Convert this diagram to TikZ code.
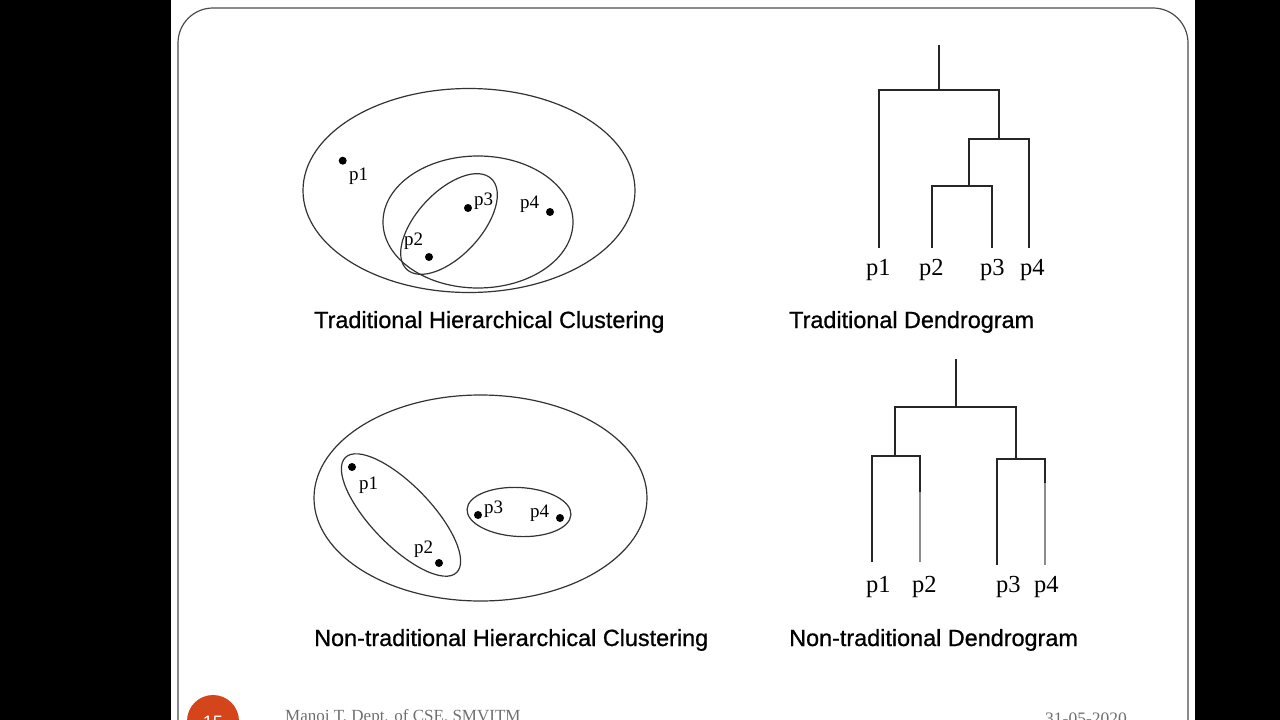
\documentclass[tikz,border=0pt]{standalone}
\usepackage{fontspec}
\setmainfont{Liberation Serif}
\setsansfont{Liberation Sans}
\newfontfamily\capfont[FakeBold=0.8]{Liberation Sans}
\usepackage{tikz}
\definecolor{slideorange}{HTML}{D5451C}
\definecolor{footgray}{HTML}{6F6F6F}

\begin{document}
\begin{tikzpicture}[x=1pt,y=-1pt,cluster/.style={line width=1.2pt,draw=black!80},dot/.style={fill=black},dendro/.style={line width=1.5pt,draw=black!85},faint/.style={line width=1.5pt,draw=black!45},smallp/.style={anchor=base west,inner sep=0pt,font=\fontsize{19}{19}\selectfont},bigp/.style={anchor=base west,inner sep=0pt,font=\fontsize{24.5}{24.5}\selectfont},caption/.style={anchor=base west,inner sep=0pt,font=\capfont\fontsize{23.4}{23.4}\selectfont}]
\clip (0,0) rectangle (1280,720);
\fill[white] (0,0) rectangle (1280,720);
\fill[black] (0,0) rectangle (171,720); \fill[black] (1195,0) rectangle (1280,720);
\draw[line width=1.2pt,draw=black!70,rounded corners=35pt] (178,740) |- (1188,8) -- (1188,740);
% traditional clusters
\draw[cluster] (469,190.5) ellipse [x radius=166, y radius=102];
\draw[cluster] (478,222) ellipse [x radius=95, y radius=66];
\draw[cluster,rotate around={47:(449,224)}] (449,224) ellipse [x radius=62, y radius=32];
\foreach \px/\py in {342.7/160.7,468/208,550/212,429/257} {\fill[dot] (\px,\py) circle[radius=4];}
\node[smallp] (tp1) at (349,180){p1}; \node[smallp] (tp3) at (474,205){p3}; \node[smallp] (tp4) at (520,208){p4}; \node[smallp] (tp2) at (404,245){p2};
\node[caption] (tcap) at (314,328){Traditional Hierarchical Clustering};
% traditional dendrogram
\draw[dendro] (939,45) -- (939,90); \draw[dendro] (879,248) -- (879,90) -- (999,90) -- (999,139);
\draw[dendro] (969,186) -- (969,139) -- (1029,139) -- (1029,248); \draw[dendro] (932,248) -- (932,186) -- (992,186) -- (992,248);
\node[bigp] (tdp1) at (866,275){p1}; \node[bigp] (tdp2) at (919,275){p2}; \node[bigp] (tdp3) at (980,275){p3}; \node[bigp] (tdp4) at (1020,275){p4};
\node[caption] (tdcap) at (789,328){Traditional Dendrogram};
% non-traditional clusters
\draw[cluster] (480.5,498) ellipse [x radius=166.5, y radius=103];
\draw[cluster,rotate around={-46:(401,515)}] (401,515) ellipse [x radius=80, y radius=30];
\draw[cluster,rotate around={-3:(519,512)}] (519,512) ellipse [x radius=52, y radius=24.5];
\foreach \px/\py in {352/467,439/563,478/515,560/518} {\fill[dot] (\px,\py) circle[radius=4];}
\node[smallp] (np1) at (359,489){p1}; \node[smallp] (np2) at (414,553){p2}; \node[smallp] (np3) at (484,513){p3}; \node[smallp] (np4) at (530,517){p4};
\node[caption] (ncap) at (314,646){Non-traditional Hierarchical Clustering};
% non-traditional dendrogram
\draw[dendro] (956,359) -- (956,407); \draw[dendro] (895,456) -- (895,407) -- (1016,407) -- (1016,459);
\draw[dendro] (872,562) -- (872,456) -- (920,456) -- (920,492); \draw[faint] (920,492) -- (920,562);
\draw[dendro] (997,565) -- (997,459) -- (1045,459) -- (1045,483); \draw[faint] (1045,483) -- (1045,565);
\node[bigp] (ndp1) at (866,592){p1}; \node[bigp] (ndp2) at (912,592){p2}; \node[bigp] (ndp3) at (996,592){p3}; \node[bigp] (ndp4) at (1034,592){p4};
\node[caption] (ndcap) at (789,646){Non-traditional Dendrogram};
% footer
\fill[slideorange] (213,721) circle[radius=26];
\node[anchor=base,inner sep=0pt,text=white,font=\sffamily\fontsize{18}{18}\selectfont] (pnum) at (213,728){15};
\node[anchor=base west,inner sep=0pt,text=footgray,font=\fontsize{17}{17}\selectfont] (foot) at (285,721){Manoj T, Dept. of CSE, SMVITM};
\node[anchor=base west,inner sep=0pt,text=footgray,font=\fontsize{17.5}{17.5}\selectfont] (date) at (1045,724){31-05-2020};
\end{tikzpicture}
\end{document}
